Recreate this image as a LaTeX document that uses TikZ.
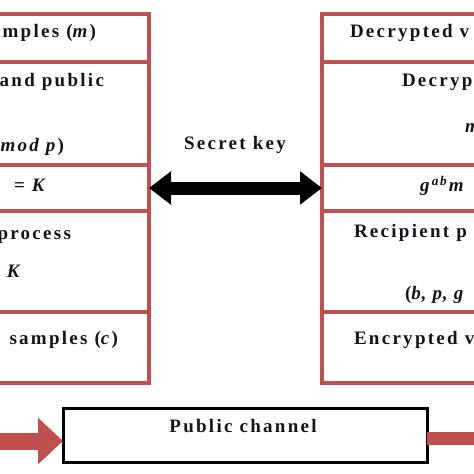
\documentclass[tikz,border=0pt]{standalone}
\usepackage{fontspec}
\setmainfont{Liberation Serif}
\newfontfamily\trk{Liberation Serif}[LetterSpace=12]
\usetikzlibrary{arrows.meta}
\definecolor{boxred}{HTML}{C0504D}
\definecolor{txtcol}{HTML}{14141E}
\newcommand\mi[1]{\textit{#1}}
\tikzset{
  rowbox/.style={draw=boxred, line width=3.5pt, inner sep=0pt, outer sep=0pt, anchor=north west},
  lrow/.style={rowbox, minimum width=229pt},
  rrow/.style={rowbox, minimum width=238pt},
  txt/.style={font=\trk\fontsize{19}{22}\selectfont\bfseries, inner sep=0pt, outer sep=0pt, text=txtcol},
  pcbox/.style={draw=black, line width=3pt, minimum width=364pt, minimum height=54pt, inner sep=0pt, outer sep=0pt},
  keyarrow/.style={line width=13pt, {Triangle[length=22pt,width=32pt]}-{Triangle[length=22pt,width=32pt]}},
  redarrow/.style={draw=boxred, line width=17pt, -{Triangle[length=25pt,width=45pt]}},
  redline/.style={draw=boxred, line width=13pt}
}
\begin{document}
\begin{tikzpicture}[x=1pt,y=-1pt]
\useasboundingbox (0,0) rectangle (474,474);
\clip (0,0) rectangle (474,474);
\fill[white] (0,0) rectangle (474,474);
% left box rows
\node[lrow, minimum height=48pt]  (L1) at (-80,14)  {};
\node[lrow, minimum height=103pt] (L2) at (-80,62)  {};
\node[lrow, minimum height=46pt]  (L3) at (-80,165) {};
\node[lrow, minimum height=101pt] (L4) at (-80,211) {};
\node[lrow, minimum height=71pt]  (L5) at (-80,312) {};
% right box rows
\node[rrow, minimum height=48pt]  (R1) at (322,14)  {};
\node[rrow, minimum height=103pt] (R2) at (322,62)  {};
\node[rrow, minimum height=46pt]  (R3) at (322,165) {};
\node[rrow, minimum height=101pt] (R4) at (322,211) {};
\node[rrow, minimum height=71pt]  (R5) at (322,312) {};
% left texts
\node[txt, anchor=mid east] (lt1) at (96,35)  {mples (\mi{m})};
\node[txt, anchor=mid east] (lt2) at (104,84)  {and public};
\node[txt, anchor=mid east] (lt3) at (64,149) {\mi{mod p})};
\node[txt, anchor=mid east] (lt4) at (48,189)  {= \mi{K}};
\node[txt, anchor=mid east] (lt5) at (71,237) {process};
\node[txt, anchor=mid east] (lt6) at (23,275)  {\mi{K}};
\node[txt, anchor=mid east] (lt7) at (118,342) {samples (\mi{c})};
% right texts
\node[txt, anchor=mid west] (rt1) at (350,35)  {Decrypted v};
\node[txt, anchor=mid west] (rt2) at (402,84)  {Decryp};
\node[txt, anchor=mid west] (rt3) at (465,130) {\mi{m}};
\node[txt, anchor=mid west] (rt4) at (420,189) {\mi{g}\textsuperscript{\mi{ab}}\mi{m}};
\node[txt, anchor=mid west] (rt5) at (354,235) {Recipient p};
\node[txt, anchor=mid west] (rt6) at (405,297) {(\mi{b}, \mi{p}, \mi{g}};
\node[txt, anchor=mid west] (rt7) at (354,342) {Encrypted v};
% secret key
\node[txt] (sk) at (235,145) {Secret key};
\draw[keyarrow] (L3.east) -- (R3.west);
% public channel
\node[pcbox] (pc) at (245,435) {};
\node[txt] (pct) at (243,426) {Public channel};
\coordinate (lin) at (-10,441);
\coordinate (rout) at (520,438);
\draw[redarrow] (lin) -- (pc.west |- lin);
\draw[redline] (pc.east |- rout) -- (rout);
\end{tikzpicture}
\end{document}
